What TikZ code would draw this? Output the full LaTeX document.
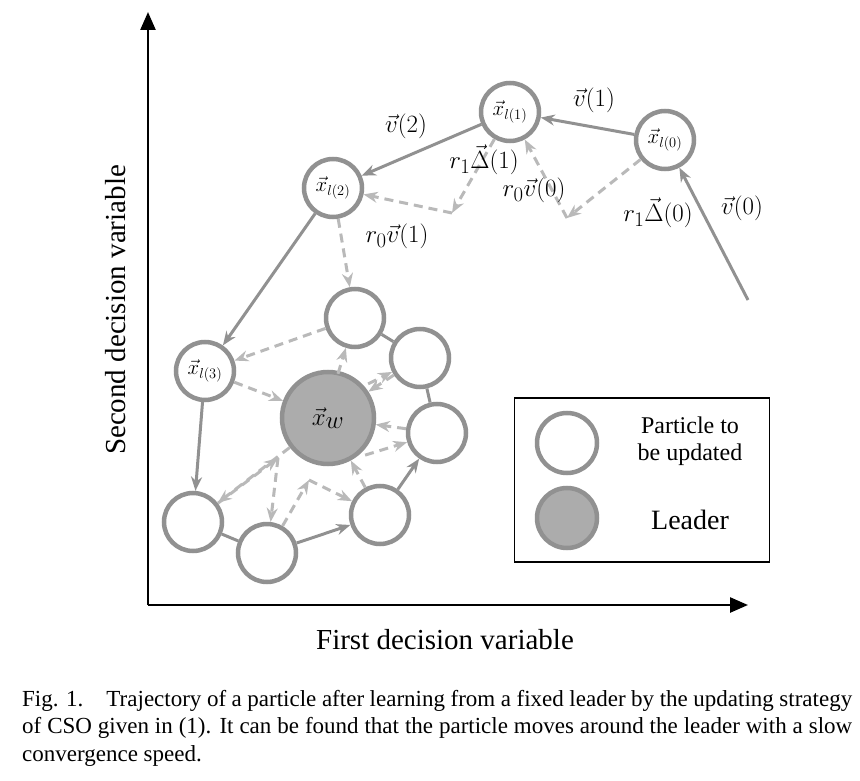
\documentclass[tikz,border=0pt]{standalone}
\usepackage{fontspec}
\setmainfont{Liberation Serif}
\usetikzlibrary{arrows.meta}
\definecolor{sol}{RGB}{145,145,145}
\definecolor{dsh}{RGB}{185,185,185}
\definecolor{lead}{RGB}{172,172,172}
\begin{document}
\begin{tikzpicture}[x=1pt,y=-1pt,
  pc/.style={circle,draw=sol,line width=4.5pt,fill=white,minimum size=58pt,inner sep=0pt,font=\fontsize{22}{24}\selectfont},
  sa/.style={draw=sol,line width=3pt,-{Stealth[length=14pt,width=11pt]}},
  sl/.style={draw=sol,line width=3pt},
  da/.style={draw=dsh,line width=3pt,dash pattern=on 9pt off 6pt,-{Stealth[length=14pt,width=11pt]}},
  lb/.style={font=\fontsize{29}{32}\selectfont},
  ax/.style={line width=2.5pt,-{Triangle[length=18pt,width=15pt]}}]
\useasboundingbox (0,0) rectangle (860,781);
% axes
\coordinate (o) at (148,605);
\coordinate (yt) at (148,12);
\coordinate (xt) at (748,605);
\draw[ax] (o) -- (yt);
\draw[ax] (o) -- (xt);
\node[rotate=90,font=\fontsize{29}{32}\selectfont] (ylab) at (116,310) {Second decision variable};
\node[font=\fontsize{29}{32}\selectfont] (xlab) at (445,640) {First decision variable};
% nodes
\node[pc] (x0) at (665,140) {$\vec{x}_{l(0)}$};
\node[pc] (x1) at (510,112) {$\vec{x}_{l(1)}$};
\node[pc] (x2) at (333,188) {$\vec{x}_{l(2)}$};
\node[pc] (x3) at (205,371) {$\vec{x}_{l(3)}$};
\node[pc,fill=lead,minimum size=92pt,font=\fontsize{44}{46}\selectfont] (xw) at (328,418) {$\vec{x}_{w}$};
\node[pc] (A) at (355,318) {};
\node[pc] (B) at (420,358) {};
\node[pc] (C) at (437,433) {};
\node[pc] (D) at (380,515) {};
\node[pc] (E) at (267,553) {};
\node[pc] (F) at (193,522) {};
% solid trajectory
\coordinate (s0) at (748,300);
\draw[sa] (s0) -- (x0);
\draw[sa] (x0) -- (x1);
\draw[sa] (x1) -- (x2);
\draw[sa] (x2) -- (x3);
\draw[sa] (x3) -- (F);
\draw[sl] (F) -- (E);
\draw[sa] (E) -- (D);
\draw[sa] (D) -- (C);
\draw[sl] (C) -- (B);
\draw[sl] (B) -- (A);
% dashed decomposition
\coordinate (p0) at (567,218);
\coordinate (p1) at (452,213);
\draw[da] (x0) -- (p0);
\draw[da] (p0) -- (x1);
\draw[da] (x1) -- (p1);
\draw[da] (p1) -- (x2);
\draw[da] (x2) -- (A);
\draw[da] (A) -- (x3);
\draw[da] (x3) -- (xw);
% cluster dashed
\coordinate (q1) at (278,458);
\coordinate (q2) at (309,480);
\draw[da] (xw) -- (F);
\draw[da] (F) -- (q1);
\draw[da] (q1) -- (E);
\draw[da] (E) -- (q2);
\draw[da] (q2) -- (D);
\draw[da] (D) -- (xw);
\draw[da] ([xshift=3pt,yshift=-3pt]xw.south east) -- (C);
\draw[da] (C) -- (xw);
\draw[da] ([xshift=6pt]xw.north east) -- (B);
\draw[da] (B) -- (xw);
\draw[da] ([xshift=10pt,yshift=-4pt]xw.north) -- (A);
% labels
\node[lb] (lv0) at (742,208) {$\vec{v}(0)$};
\node[lb] (lv1) at (594,100) {$\vec{v}(1)$};
\node[lb] (lv2) at (406,126) {$\vec{v}(2)$};
\node[lb] (ld0) at (658,213) {$r_1\vec{\Delta}(0)$};
\node[lb] (lr0) at (534,190) {$r_0\vec{v}(0)$};
\node[lb] (ld1) at (484,160) {$r_1\vec{\Delta}(1)$};
\node[lb] (lr1) at (397,236) {$r_0\vec{v}(1)$};
% legend
\node[draw,line width=1.6pt,minimum width=255pt,minimum height=164pt,inner sep=0pt] (leg) at (642,480) {};
\node[pc,minimum size=60pt] (lc1) at (567,443) {};
\node[pc,minimum size=60pt,fill=lead] (lc2) at (567,518) {};
\node[align=center,font=\fontsize{24}{27}\selectfont] (lt1) at (690,441) {Particle to\\be updated};
\node[font=\fontsize{28}{30}\selectfont] (lt2) at (690,520) {Leader};
% caption
\node[anchor=north west,text width=830pt,align=justify,inner sep=0pt,font=\fontsize{23}{27.5}\selectfont] (cap) at (22,690)
{Fig. 1.\quad Trajectory of a particle after learning from a fixed leader by the updating strategy of CSO given in (1). It can be found that the particle moves around the leader with a slow convergence speed.};
\end{tikzpicture}
\end{document}
